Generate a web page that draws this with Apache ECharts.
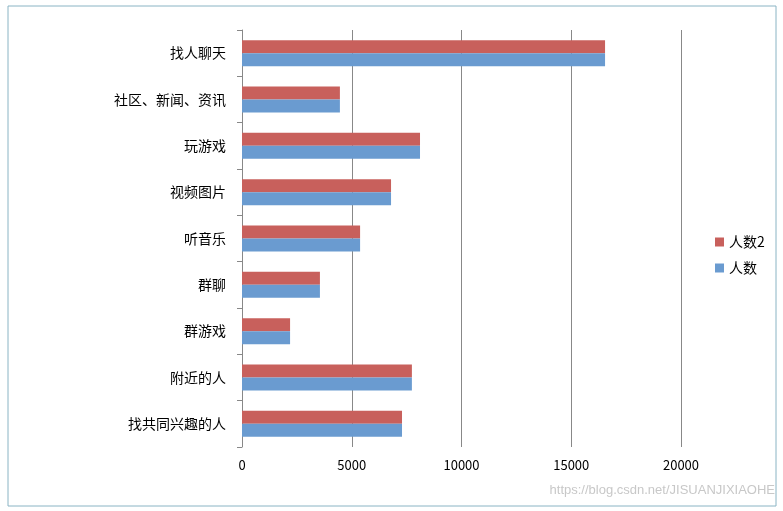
<!DOCTYPE html>
<html><head><meta charset="utf-8">
<script src="https://cdn.jsdelivr.net/npm/echarts@6/dist/echarts.min.js"></script>
<style>body{margin:0;background:#fff}</style>
</head><body>
<div id="main" style="width:783px;height:511px;"></div>
<script type="text/javascript">
    var categories = ['找人聊天', '社区、新闻、资讯', '玩游戏', '视频图片', '听音乐', '群聊', '群游戏', '附近的人', '找共同兴趣的人'];
    var people2 = [16540, 4460, 8110, 6790, 5380, 3550, 2190, 7740, 7290];
    var people = [16540, 4460, 8110, 6790, 5380, 3550, 2190, 7740, 7290];

    var myChart = echarts.init(document.getElementById('main'));
    var option = {
        textStyle: {fontFamily: 'Noto Sans CJK SC'},
        graphic: [
            {type: 'rect', shape: {x: 8, y: 6, width: 768, height: 500}, style: {fill: 'none', stroke: '#8ab4c4', lineWidth: 1}},
            {type: 'text', right: 8, bottom: 14, style: {text: 'https://blog.csdn.net/JISUANJIXIAOHE', fill: '#c8c8c8', fontSize: 13}}
        ],
        grid: {left: 242, right: 102, top: 30, bottom: 64},
        legend: {
            orient: 'vertical', left: 710, top: 230, itemWidth: 9, itemHeight: 9, itemGap: 12, icon: 'rect',
            data: ['人数2', '人数'], textStyle: {fontSize: 14, color: '#000'}
        },
        xAxis: {
            type: 'value', min: 0, max: 20000, interval: 5000,
            axisLine: {show: false}, axisTick: {show: false},
            axisLabel: {color: '#000', fontSize: 13, margin: 12, formatter: function (v) { return String(v); }},
            splitLine: {lineStyle: {color: '#888'}}
        },
        yAxis: {
            type: 'category', inverse: true, data: categories,
            axisLine: {lineStyle: {color: '#888'}},
            axisTick: {show: true, lineStyle: {color: '#888'}, length: 5},
            axisLabel: {color: '#000', fontSize: 14, margin: 16}
        },
        series: [
            {name: '人数2', type: 'bar', data: people2, barWidth: 13, barGap: '0%', itemStyle: {color: '#c8605c'}},
            {name: '人数', type: 'bar', data: people, barWidth: 13, itemStyle: {color: '#6a9bd0'}}
        ]
    };
    myChart.setOption(option);
</script>
</body></html>
